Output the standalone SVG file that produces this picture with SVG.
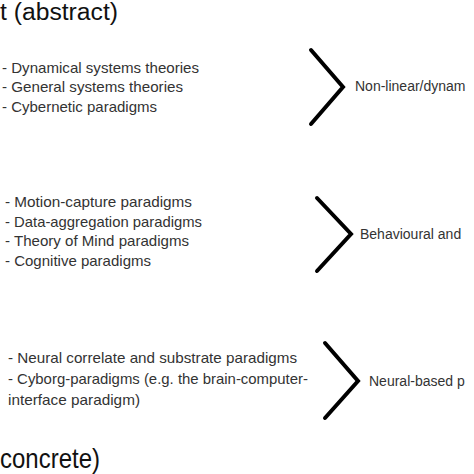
<svg xmlns="http://www.w3.org/2000/svg" width="474" height="474" viewBox="0 0 474 474">
  <style>
    text { font-family: "Liberation Sans", Arial, sans-serif; fill: #333333; }
    .title { font-size: 23px; fill: #111111; }
    .item { font-size: 15px; }
    .label { font-size: 14px; }
    .brace { fill: none; stroke: #000000; stroke-width: 4; stroke-linecap: round; stroke-linejoin: miter; }
  </style>
  <rect width="474" height="474" fill="#ffffff"/>
  <g id="title-top">
    <text class="title" x="0" y="20" textLength="118" lengthAdjust="spacingAndGlyphs">t (abstract)</text>
  </g>
  <g id="group-1">
    <text class="item" x="2" y="73" textLength="197" lengthAdjust="spacingAndGlyphs">- Dynamical systems theories</text>
    <text class="item" x="2" y="92" textLength="181" lengthAdjust="spacingAndGlyphs">- General systems theories</text>
    <text class="item" x="2" y="112" textLength="155" lengthAdjust="spacingAndGlyphs">- Cybernetic paradigms</text>
  </g>
  <g id="group-2">
    <text class="item" x="5" y="207" textLength="187" lengthAdjust="spacingAndGlyphs">- Motion-capture paradigms</text>
    <text class="item" x="5" y="227" textLength="197" lengthAdjust="spacingAndGlyphs">- Data-aggregation paradigms</text>
    <text class="item" x="5" y="246" textLength="184" lengthAdjust="spacingAndGlyphs">- Theory of Mind paradigms</text>
    <text class="item" x="5" y="266" textLength="146" lengthAdjust="spacingAndGlyphs">- Cognitive paradigms</text>
  </g>
  <g id="group-3">
    <text class="item" x="8" y="363" textLength="289" lengthAdjust="spacingAndGlyphs">- Neural correlate and substrate paradigms</text>
    <text class="item" x="8" y="384" textLength="300" lengthAdjust="spacingAndGlyphs">- Cyborg-paradigms (e.g. the brain-computer-</text>
    <text class="item" x="8" y="405" textLength="132" lengthAdjust="spacingAndGlyphs">interface paradigm)</text>
  </g>
  <g id="title-bottom">
    <text class="title" x="0" y="468" style="font-size:28px" textLength="100" lengthAdjust="spacingAndGlyphs">concrete)</text>
  </g>
  <g id="connectors">
    <polyline class="brace" points="311,50 343,87 311,124"/>
    <polyline class="brace" points="317,198 351,234 317,271"/>
    <polyline class="brace" points="325,343 358,381 325,418"/>
  </g>
  <g id="label-1">
    <text class="label" x="355" y="91">Non-linear/dynam</text>
  </g>
  <g id="label-2">
    <text class="label" x="360" y="239">Behavioural and</text>
  </g>
  <g id="label-3">
    <text class="label" x="369" y="386">Neural-based p</text>
  </g>
</svg>
